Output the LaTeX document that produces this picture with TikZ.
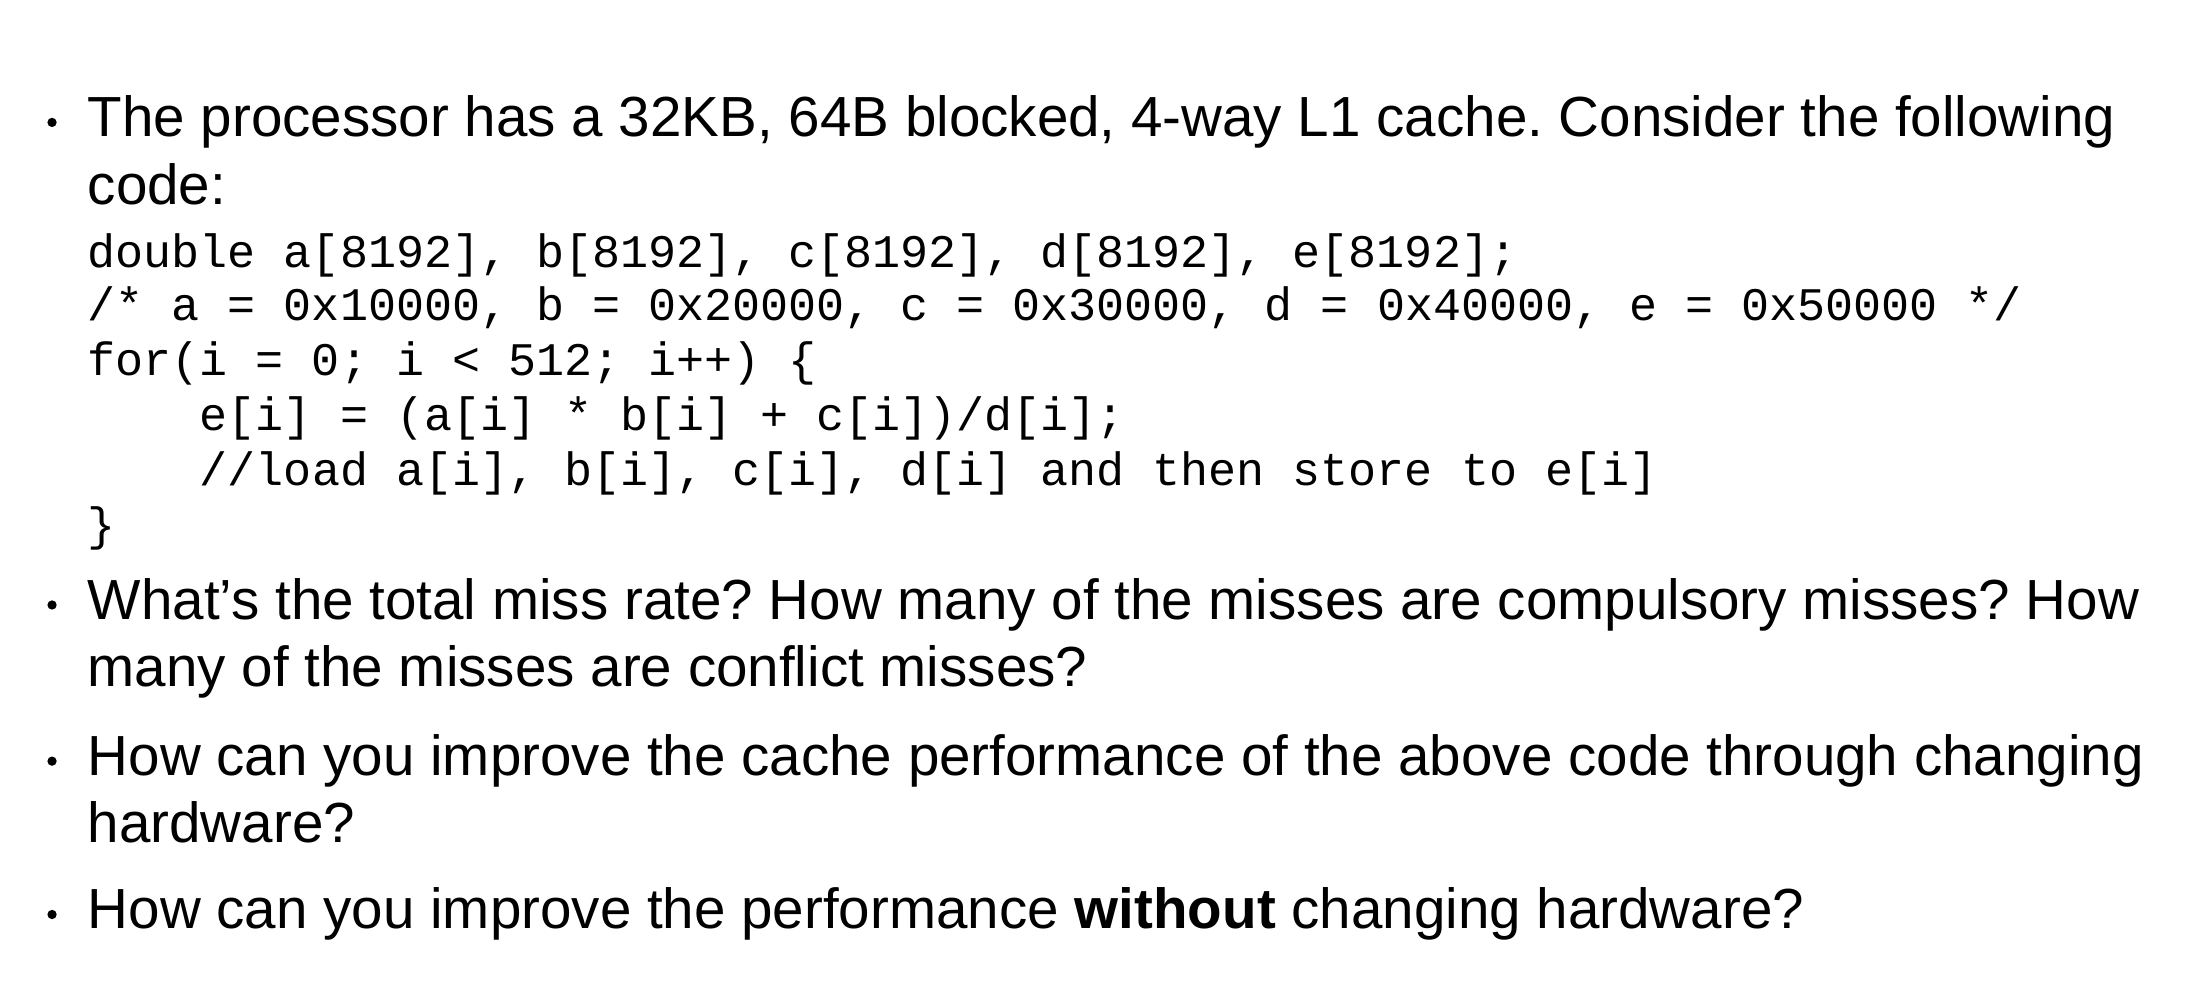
\documentclass[tikz,border=0pt]{standalone}
\usepackage{fontspec}
\setmainfont{Liberation Sans}
\setmonofont{Liberation Mono}
\frenchspacing
\begin{document}
\begin{tikzpicture}[x=0.5pt,y=-0.5pt,
  txt/.style={anchor=base west,inner sep=0pt,font=\fontsize{20.1pt}{24pt}\selectfont},
  cd/.style={anchor=base west,inner sep=0pt,font=\fontsize{16.6pt}{20pt}\ttfamily},
  bul/.style={circle,fill=black,inner sep=0pt,minimum size=3.3pt}]
\useasboundingbox (0,0) rectangle (1568,698);
\node[bul] (b1) at (37,87) {};
\node[txt] (t1) at (62,97) {The processor has a 32KB, 64B blocked, 4-way L1 cache. Consider the following};
\node[txt] (t1b) at (62,145) {code:};
\node[cd] (c1) at (62,190) {double a[8192], b[8192], c[8192], d[8192], e[8192];};
\node[cd] (c2) at (62,228) {/* a = 0x10000, b = 0x20000, c = 0x30000, d = 0x40000, e = 0x50000 */};
\node[cd] (c3) at (62,267) {for(i = 0; i < 512; i++) \{};
\node[cd] (c4) at (62,306) {\ \ \ \ e[i] = (a[i] * b[i] + c[i])/d[i];};
\node[cd] (c5) at (62,345) {\ \ \ \ //load a[i], b[i], c[i], d[i] and then store to e[i]};
\node[cd] (c6) at (62,384) {\}};
\node[bul] (b2) at (37,430) {};
\node[txt] (t2) at (62,440) {What’s the total miss rate? How many of the misses are compulsory misses? How};
\node[txt] (t2b) at (62,488) {many of the misses are conflict misses?};
\node[bul] (b3) at (37,541) {};
\node[txt] (t3) at (62,551) {How can you improve the cache performance of the above code through changing};
\node[txt] (t3b) at (62,599) {hardware?};
\node[bul] (b4) at (37,650) {};
\node[txt] (t4) at (62,660) {How can you improve the performance \textbf{without} changing hardware?};
\end{tikzpicture}
\end{document}
